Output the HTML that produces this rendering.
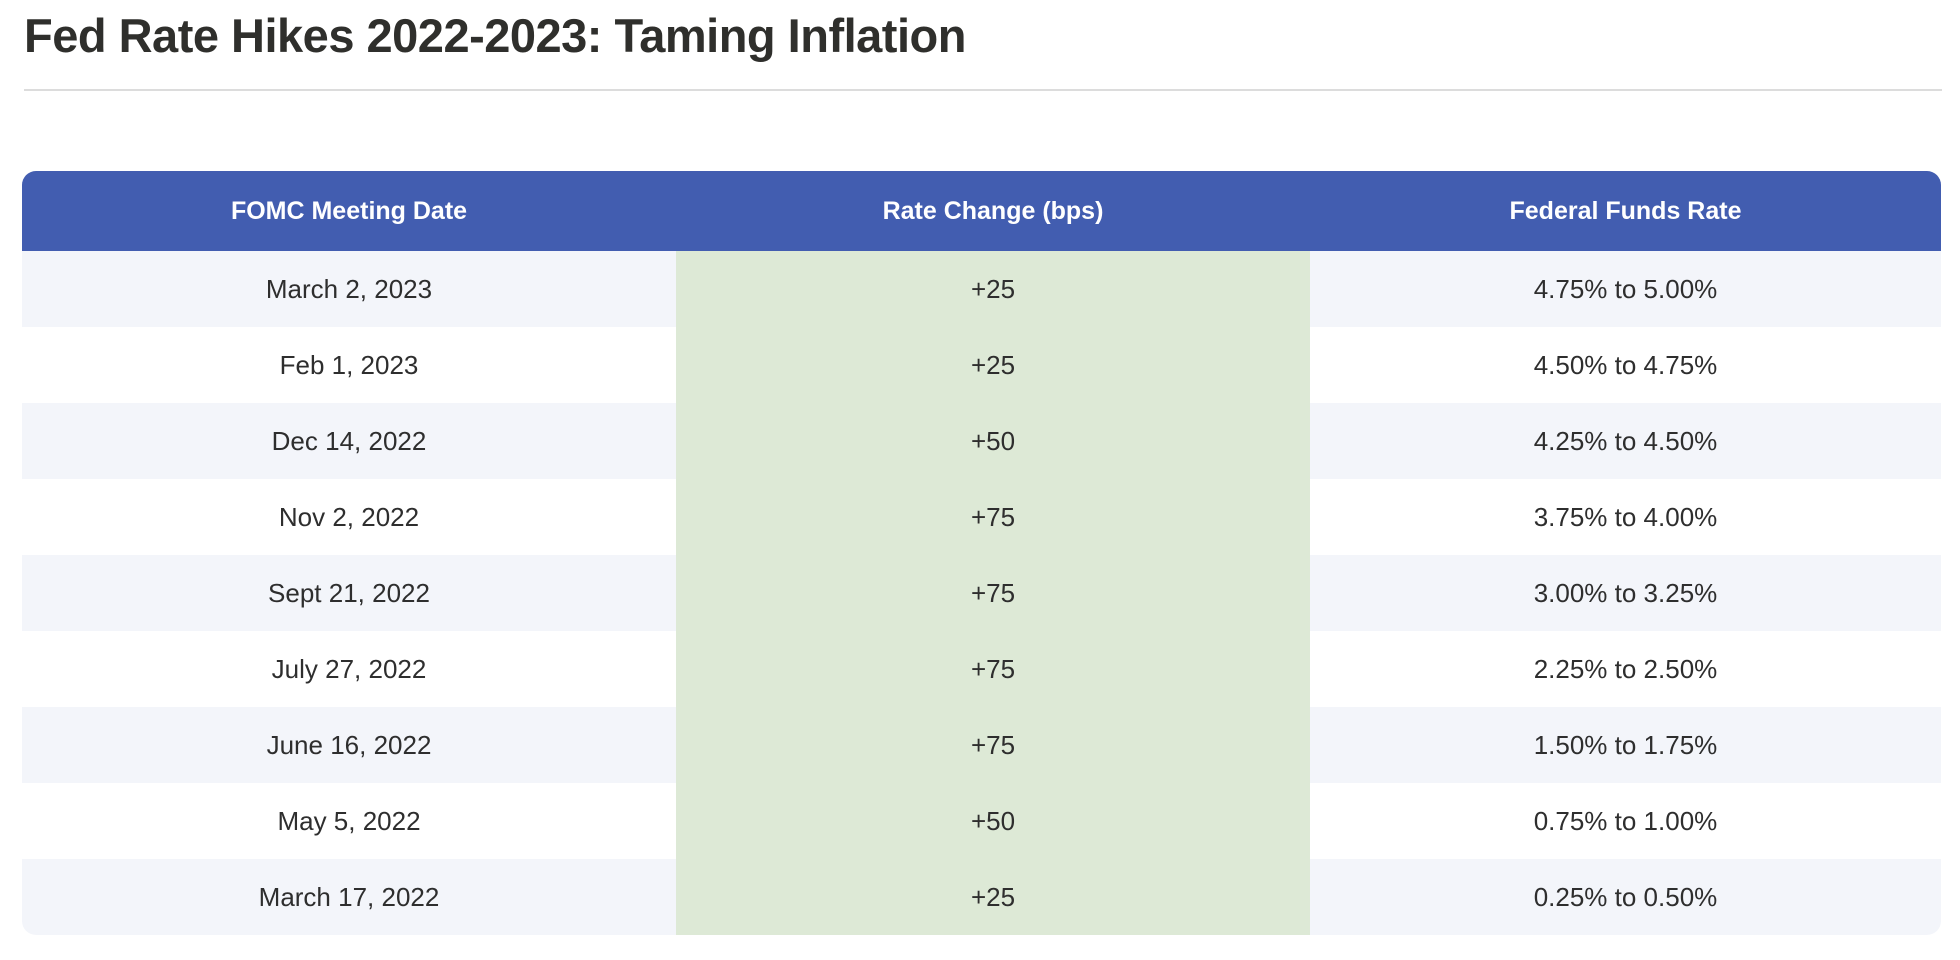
<!DOCTYPE html>
<html><head><meta charset="utf-8"><style>
body{margin:0;background:#fff;width:1960px;height:960px;overflow:hidden;font-family:"Liberation Sans",sans-serif}
h1{position:absolute;left:24px;top:4px;margin:0;font-size:47px;font-weight:bold;color:#2f2f2c;letter-spacing:-0.5px;line-height:64px}
.rule{position:absolute;left:24px;top:89px;width:1918px;height:2px;background:#dcdcdc}
table{position:absolute;left:22px;top:171px;width:1919px;border-collapse:separate;border-spacing:0;border-radius:14px;overflow:hidden;table-layout:fixed}
th{background:#425db0;color:#fff;font-size:25px;font-weight:bold;height:80px;padding:0}
td{height:76px;padding:0;text-align:center;font-size:26px;color:#2e2e2e}
tr:nth-child(odd) td{background:#f3f5fa}
tr:nth-child(even) td{background:#fff}
td.g{background:#dde9d6!important}
</style></head><body>
<h1>Fed Rate Hikes 2022-2023: Taming Inflation</h1>
<div class="rule"></div>
<table>
<colgroup><col style="width:654px"><col style="width:634px"><col style="width:631px"></colgroup>
<thead><tr>
<th>FOMC Meeting Date</th>
<th>Rate Change (bps)</th>
<th>Federal Funds Rate</th></tr></thead>
<tbody id="tb"></tbody></table>
<script>
const dates=["March 2, 2023","Feb 1, 2023","Dec 14, 2022","Nov 2, 2022","Sept 21, 2022","July 27, 2022","June 16, 2022","May 5, 2022","March 17, 2022"];
const changes=["+25","+25","+50","+75","+75","+75","+75","+50","+25"];
const rates=["4.75% to 5.00%","4.50% to 4.75%","4.25% to 4.50%","3.75% to 4.00%","3.00% to 3.25%","2.25% to 2.50%","1.50% to 1.75%","0.75% to 1.00%","0.25% to 0.50%"];
const tb=document.getElementById('tb');
dates.forEach((d,i)=>{
  const tr=document.createElement('tr');
  
  
  const a=document.createElement('td');a.textContent=d;
  
  
  const b=document.createElement('td');b.textContent=changes[i];b.className='g';
  
  
  const c=document.createElement('td');c.textContent=rates[i];
  
  
  tr.append(a,b,c);tb.appendChild(tr);
});
</script>
</body></html>
